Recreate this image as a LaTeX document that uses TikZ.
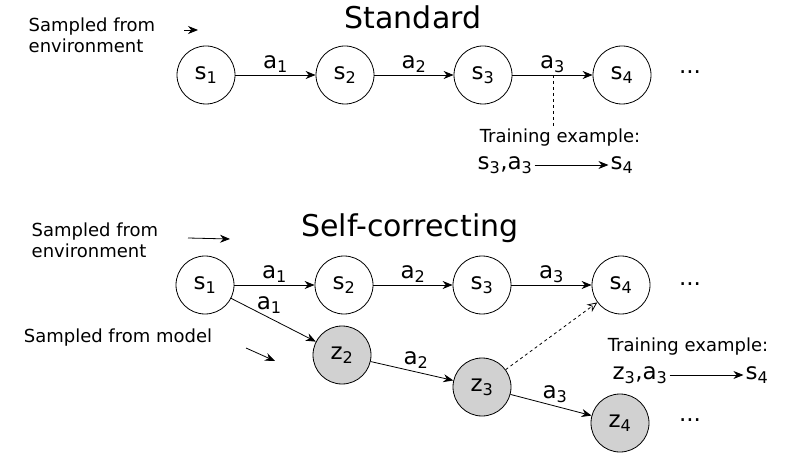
\documentclass[tikz,border=0pt]{standalone}
\usepackage{fontspec}
\setmainfont{DejaVu Sans}
\usetikzlibrary{arrows.meta}
\newcommand{\sbx}[1]{\textsubscript{#1}}
\begin{document}
\begin{tikzpicture}[x=1pt,y=-1pt,
 st/.style={circle,draw,thick,minimum size=58pt,inner sep=0pt,font=\fontsize{23}{24}\selectfont},
 zt/.style={st,fill=black!18},
 lab/.style={font=\fontsize{23}{24}\selectfont,inner sep=2pt},
 sm/.style={font=\fontsize{18}{21}\selectfont,align=left},
 ar/.style={thick,-{Stealth[length=10pt,width=8pt]}},
 ttl/.style={font=\fontsize{30}{32}\selectfont}]
\useasboundingbox (0,0) rectangle (790,457);
% Standard
\node[ttl] (t1) at (413,17) {Standard};
\node[sm] (e1) at (92,35) {Sampled from\\environment};
\coordinate (e1a) at (184,30); \coordinate (e1b) at (198,30);
\draw[ar] (e1a) -- (e1b);
\node[st] (s1) at (206,75) {s\sbx{1}};
\node[st] (s2) at (345,75) {s\sbx{2}};
\node[st] (s3) at (483,75) {s\sbx{3}};
\node[st] (s4) at (622,75) {s\sbx{4}};
\node[lab] (d1) at (690,72) {...};
\draw[ar] (s1) -- node[lab,above] {a\sbx{1}} (s2);
\draw[ar] (s2) -- node[lab,above] {a\sbx{2}} (s3);
\draw[ar] (s3) -- node[lab,above] {a\sbx{3}} (s4);
\coordinate (dt) at (553,75); \coordinate (db) at (553,126);
\draw[thick,dashed] (dt) -- (db);
\node[sm] (te1) at (560,138) {Training example:};
\node[lab] (x1) at (505,165) {s\sbx{3},a\sbx{3}};
\node[lab] (y1) at (622,165) {s\sbx{4}};
\draw[ar] (x1) -- (y1);
% Self-correcting
\node[ttl] (t2) at (410,228) {Self-correcting};
\node[sm] (e2) at (95,240) {Sampled from\\environment};
\coordinate (e2a) at (188,238); \coordinate (e2b) at (230,239);
\draw[ar] (e2a) -- (e2b);
\node[st] (r1) at (205,285) {s\sbx{1}};
\node[st] (r2) at (344,285) {s\sbx{2}};
\node[st] (r3) at (482,285) {s\sbx{3}};
\node[st] (r4) at (621,285) {s\sbx{4}};
\node[lab] (d2) at (690,284) {...};
\draw[ar] (r1) -- node[lab,above] {a\sbx{1}} (r2);
\draw[ar] (r2) -- node[lab,above] {a\sbx{2}} (r3);
\draw[ar] (r3) -- node[lab,above] {a\sbx{3}} (r4);
\node[zt] (z2) at (342,355) {z\sbx{2}};
\node[zt] (z3) at (482,387) {z\sbx{3}};
\node[zt] (z4) at (620,423) {z\sbx{4}};
\node[lab] (d3) at (690,420) {...};
\draw[ar] (r1) -- node[lab,above,pos=0.45,yshift=2pt] {a\sbx{1}} (z2);
\draw[ar] (z2) -- node[lab,above,xshift=4pt] {a\sbx{2}} (z3);
\draw[ar] (z3) -- node[lab,above,xshift=4pt] {a\sbx{3}} (z4);
\draw[thick,dashed,-{Stealth[length=10pt,width=9pt,open]}] (z3) -- (r4);
\node[sm] (m) at (118,338) {Sampled from model};
\coordinate (ma) at (246,348); \coordinate (mb) at (275,361);
\draw[ar] (ma) -- (mb);
\node[sm] (te2) at (688,347) {Training example:};
\node[lab] (x2) at (640,375) {z\sbx{3},a\sbx{3}};
\node[lab] (y2) at (757,375) {s\sbx{4}};
\draw[ar] (x2) -- (y2);
\end{tikzpicture}
\end{document}
